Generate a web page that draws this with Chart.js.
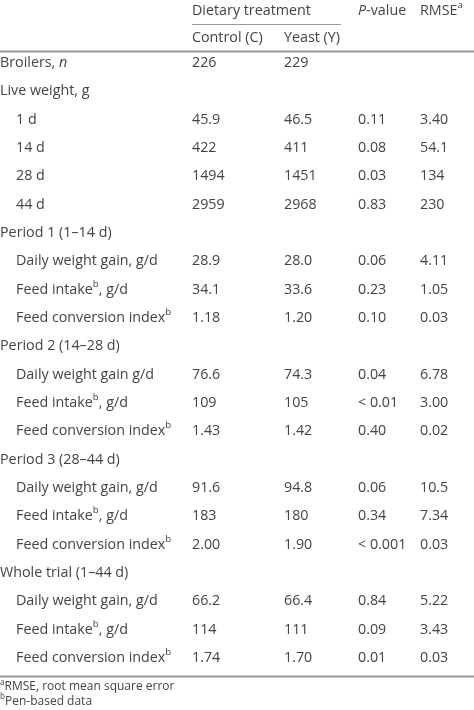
<!DOCTYPE html>
<html>
<head>
<meta charset="utf-8">
<script src="https://cdn.jsdelivr.net/npm/chart.js@4/dist/chart.umd.min.js"></script>
<style>
  html, body { margin: 0; padding: 0; background: #fff; }
  #wrap { width: 474px; height: 710px; }
</style>
</head>
<body>
<div id="wrap"><canvas id="chart"></canvas></div>
<script>
// row labels; "^b" marks a superscript b, "_n" an italic n
const rowLabels = [
  "Broilers, _n", "Live weight, g", "1 d", "14 d", "28 d", "44 d",
  "Period 1 (1–14 d)", "Daily weight gain, g/d", "Feed intake^b, g/d", "Feed conversion index^b",
  "Period 2 (14–28 d)", "Daily weight gain g/d", "Feed intake^b, g/d", "Feed conversion index^b",
  "Period 3 (28–44 d)", "Daily weight gain, g/d", "Feed intake^b, g/d", "Feed conversion index^b",
  "Whole trial (1–44 d)", "Daily weight gain, g/d", "Feed intake^b, g/d", "Feed conversion index^b"
];
const indented = [0, 0, 1, 1, 1, 1, 0, 1, 1, 1, 0, 1, 1, 1, 0, 1, 1, 1, 0, 1, 1, 1];
const controlValues = ["226", "", "45.9", "422", "1494", "2959", "", "28.9", "34.1", "1.18", "", "76.6", "109", "1.43", "", "91.6", "183", "2.00", "", "66.2", "114", "1.74"];
const yeastValues = ["229", "", "46.5", "411", "1451", "2968", "", "28.0", "33.6", "1.20", "", "74.3", "105", "1.42", "", "94.8", "180", "1.90", "", "66.4", "111", "1.70"];
const pValues = ["", "", "0.11", "0.08", "0.03", "0.83", "", "0.06", "0.23", "0.10", "", "0.04", "< 0.01", "0.40", "", "0.06", "0.34", "< 0.001", "", "0.84", "0.09", "0.01"];
const rmseValues = ["", "", "3.40", "54.1", "134", "230", "", "4.11", "1.05", "0.03", "", "6.78", "3.00", "0.02", "", "10.5", "7.34", "0.03", "", "5.22", "3.43", "0.03"];
const footnotes = ["^aRMSE, root mean square error", "^bPen-based data"];

const TEXT = "#444";
const RULE = "#999";
const FONT = "'Open Sans', sans-serif";
const colX = [192, 284, 358, 420];

// draws text with ^x superscripts and _x italic pieces
function drawRich(ctx, str, x, y, size) {
  const parts = str.split(/(\^[A-Za-z]|_[A-Za-z])/);
  parts.forEach((p) => {
    if (!p) return;
    if (p[0] === "^") {
      ctx.font = `${size * 0.68}px ${FONT}`;
      ctx.fillText(p[1], x, y - size * 0.4);
      x += ctx.measureText(p[1]).width;
    } else if (p[0] === "_") {
      ctx.font = `italic ${size}px ${FONT}`;
      ctx.fillText(p[1], x, y);
      x += ctx.measureText(p[1]).width;
    } else {
      ctx.font = `${size}px ${FONT}`;
      ctx.fillText(p, x, y);
      x += ctx.measureText(p).width;
    }
  });
}

const tablePlugin = {
  id: "table",
  afterDraw(chart) {
    const ctx = chart.ctx;
    const ys = chart.scales.y;
    const xs = chart.scales.x;
    const W = chart.width;
    const cx = (c) => xs.getPixelForValue(colX[c]);
    ctx.save();
    ctx.fillStyle = TEXT;
    ctx.textBaseline = "middle";
    const size = 14.3;

    // header
    drawRich(ctx, "Dietary treatment", cx(0), ys.getPixelForValue(-1.84), size);
    drawRich(ctx, "_P-value", cx(2), ys.getPixelForValue(-1.84), size);
    drawRich(ctx, "RMSE^a", cx(3), ys.getPixelForValue(-1.84), size);
    drawRich(ctx, "Control (C)", cx(0), ys.getPixelForValue(-0.88), size);
    drawRich(ctx, "Yeast (Y)", cx(1), ys.getPixelForValue(-0.88), size);

    // rows
    rowLabels.forEach((label, i) => {
      const y = ys.getPixelForValue(i);
      drawRich(ctx, label, indented[i] ? 16 : 0, y, size);
      [controlValues, yeastValues, pValues, rmseValues].forEach((col, c) => {
        if (col[i]) drawRich(ctx, col[i], cx(c), y, size);
      });
    });

    // rules
    ctx.strokeStyle = RULE;
    ctx.lineWidth = 1.2;
    const rule = (x0, x1, v) => {
      const y = Math.round(ys.getPixelForValue(v)) + 0.5;
      ctx.beginPath(); ctx.moveTo(x0, y); ctx.lineTo(x1, y); ctx.stroke();
    };
    rule(cx(0), 341, -1.38);
    ctx.lineWidth = 1.8;
    rule(0, W, -0.42);
    rule(0, W, 21.64);

    // footnotes
    drawRich(ctx, footnotes[0], 0, ys.getPixelForValue(22.03), 12);
    drawRich(ctx, footnotes[1], 0, ys.getPixelForValue(22.53), 12);
    ctx.restore();
  }
};

new Chart(document.getElementById("chart"), {
  type: "scatter",
  data: { datasets: [{ data: [], pointRadius: 0 }] },
  options: {
    responsive: true,
    maintainAspectRatio: false,
    animation: false,
    layout: { padding: 0 },
    plugins: { legend: { display: false }, tooltip: { enabled: false } },
    scales: {
      x: { type: "linear", display: false, min: 0, max: 474 },
      y: { type: "linear", display: false, reverse: true, min: -2.224, max: 22.84 }
    }
  },
  plugins: [tablePlugin]
});
</script>
</body>
</html>
